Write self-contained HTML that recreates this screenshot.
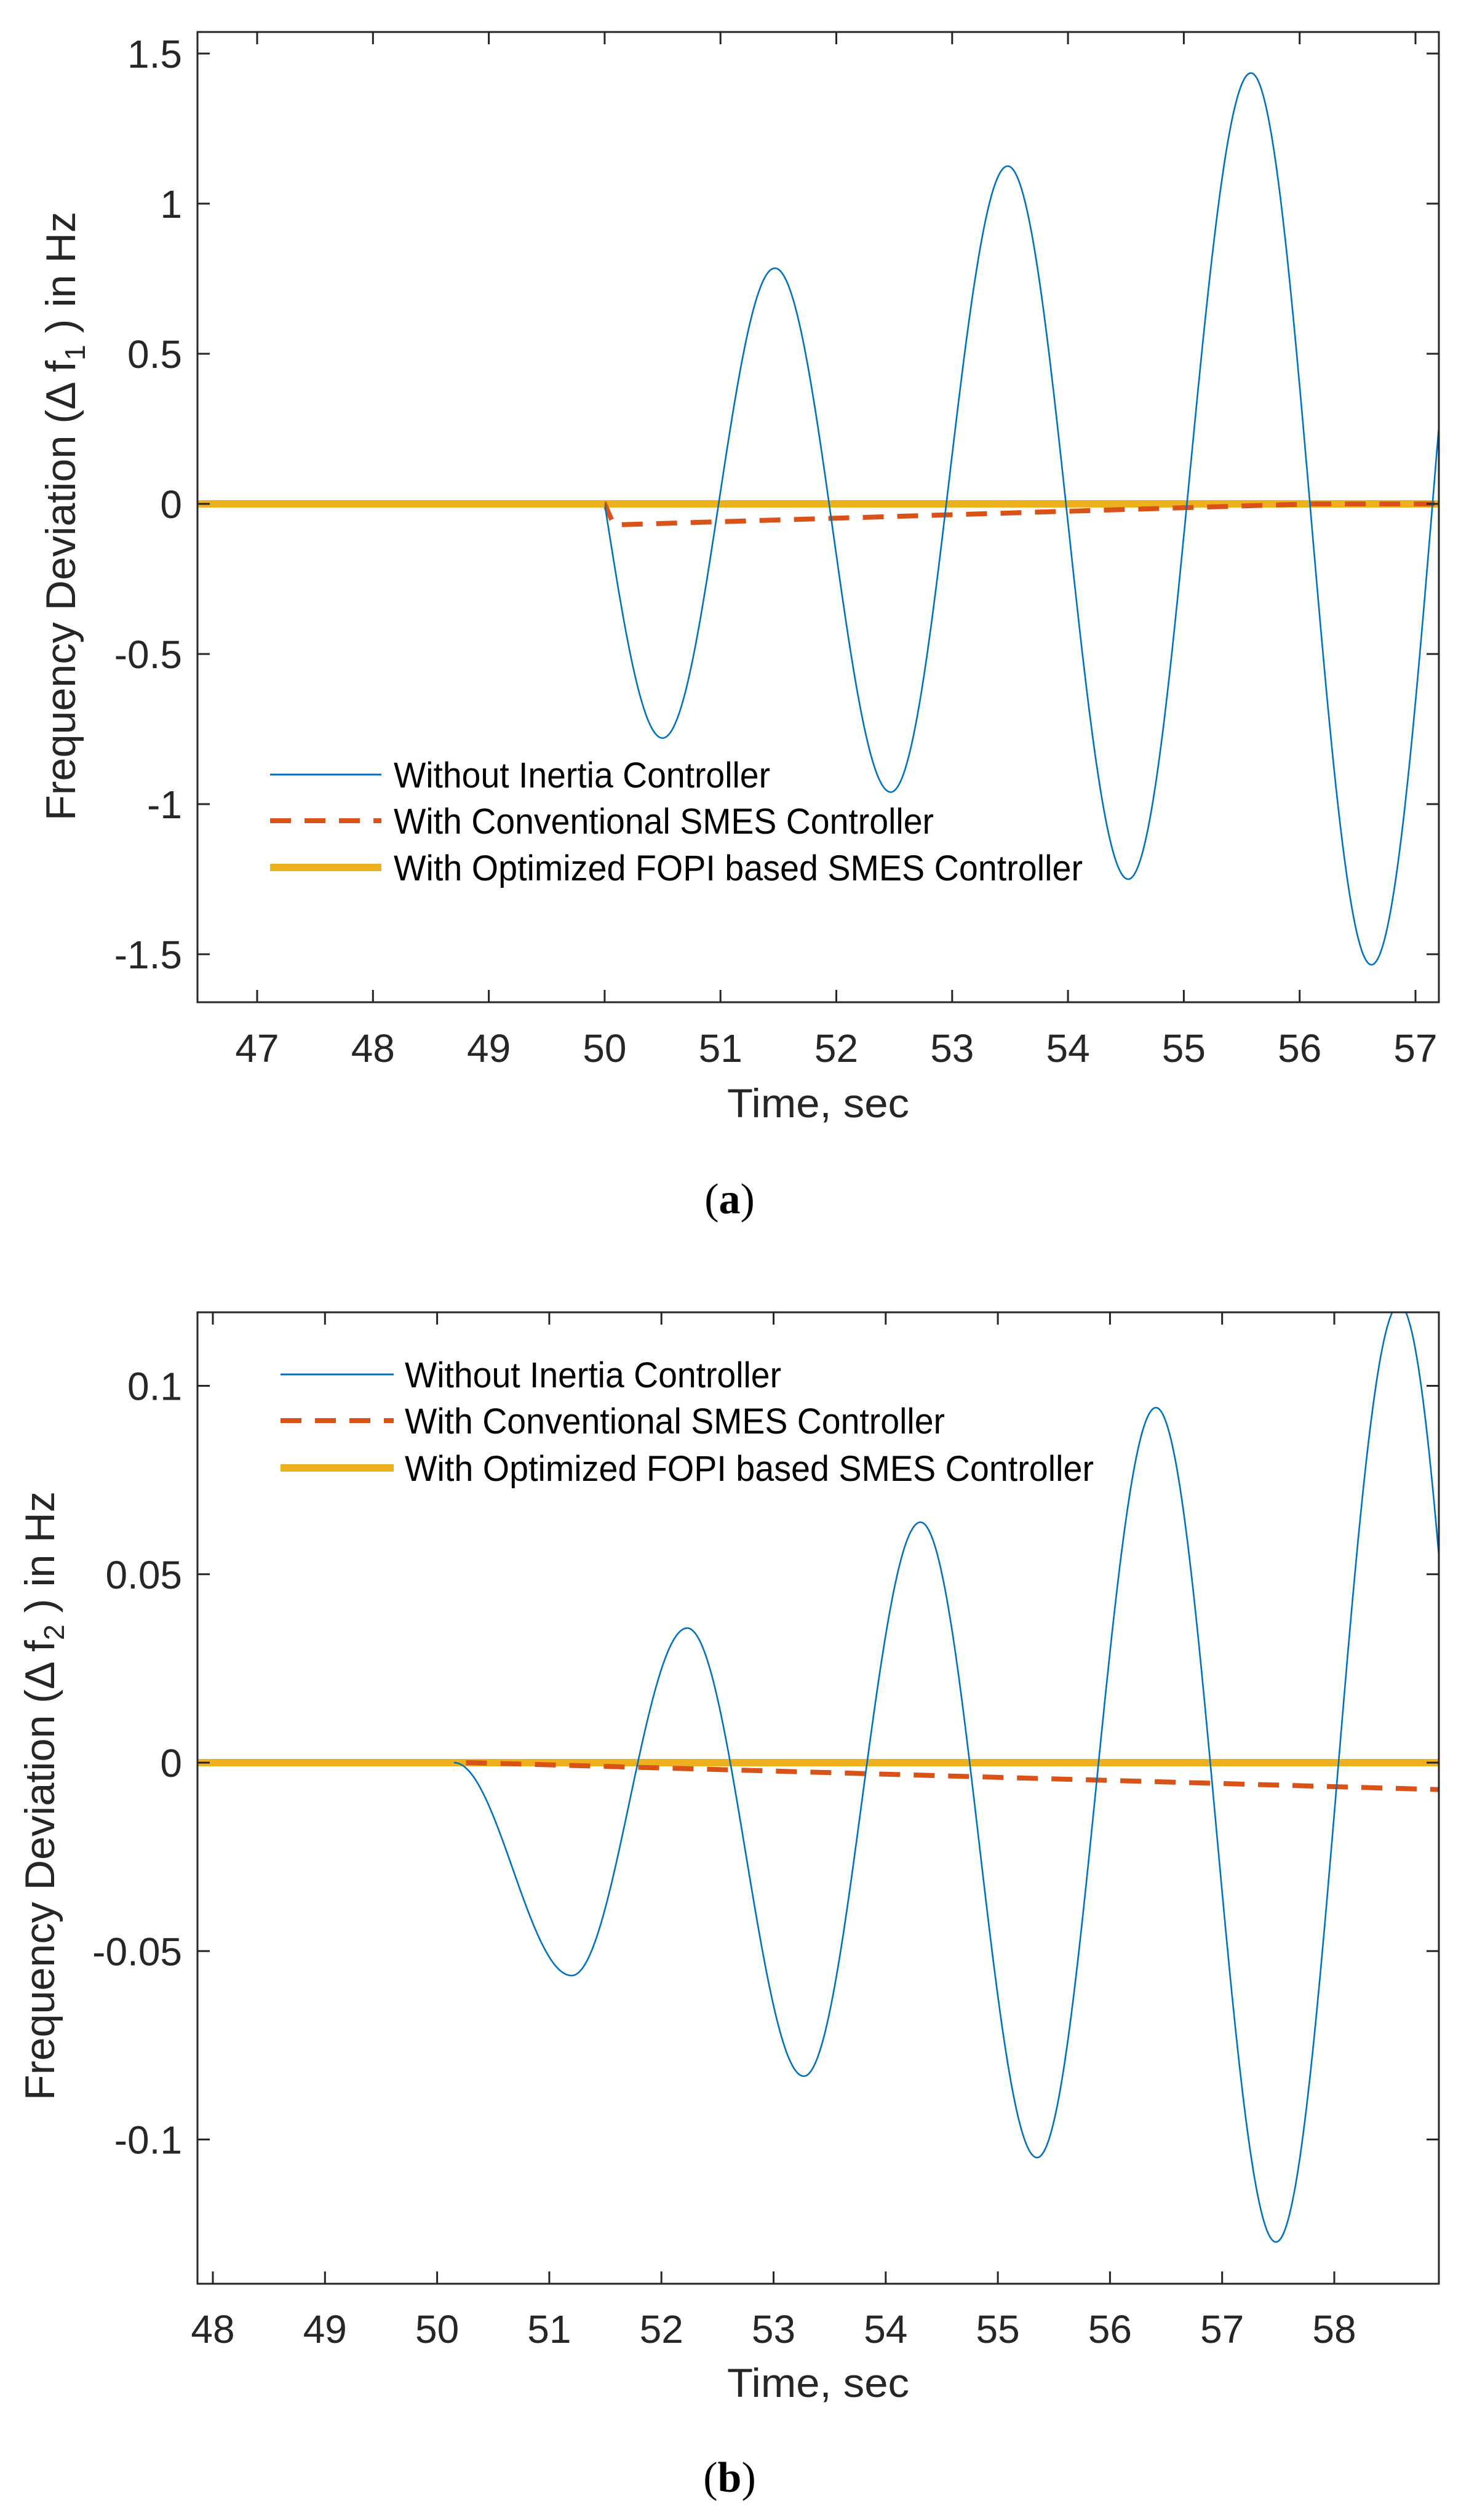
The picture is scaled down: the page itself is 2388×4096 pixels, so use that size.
<!DOCTYPE html>
<html><head><meta charset="utf-8">
<style>
html,body{margin:0;padding:0;background:#fff;}
svg{display:block;}
text{font-family:"Liberation Sans",sans-serif;fill:#262626;}
</style></head>
<body>
<svg id="s" width="2388" height="4096" viewBox="0 0 2388 4096" xmlns="http://www.w3.org/2000/svg">
<defs>
<clipPath id="ca"><rect x="321" y="52" width="2018" height="1577"/></clipPath>
<clipPath id="cb"><rect x="321" y="2133" width="2018" height="1579"/></clipPath>
</defs>
<g id="A"></g>
<g id="B"></g>
<text x="1186" y="1972" text-anchor="middle" style="font-family:'Liberation Serif',serif;font-size:70px;fill:#000">(<tspan font-weight="bold">a</tspan>)</text>
<text x="1186" y="4050" text-anchor="middle" style="font-family:'Liberation Serif',serif;font-size:70px;fill:#000">(<tspan font-weight="bold">b</tspan>)</text>
</svg>
<script>
var NS="http://www.w3.org/2000/svg";
function el(p,t,a,txt){var e=document.createElementNS(NS,t);for(var k in a)e.setAttribute(k,a[k]);if(txt!=null)e.textContent=txt;p.appendChild(e);return e;}
function curve(ext,t0,t1,fx,fy,firstSine){
  var pts=[];
  for(var t=t0;t<=t1;t+=0.004){
    var v=0;
    if(t<ext[0][0]) v=0;
    else{
      var i=0;while(i<ext.length-2&&t>ext[i+1][0])i++;
      var a=ext[i],b=ext[i+1];var f=(t-a[0])/(b[0]-a[0]);
      if(i==0&&firstSine) v=a[1]+(b[1]-a[1])*Math.sin(Math.PI/2*Math.min(f,1));
      else v=a[1]+(b[1]-a[1])*(1-Math.cos(Math.PI*f))/2;
    }
    pts.push(fx(t).toFixed(1)+","+fy(v).toFixed(1));
  }
  return "M"+pts.join("L");
}
function plot(g,cfg){
  var L=321,R=2339,T=cfg.T,Bm=cfg.B;
  var fx=function(t){return cfg.x0+(t-cfg.t0)*cfg.sx;};
  var fy=function(v){return cfg.y0-v*cfg.sy;};
  var cg=el(g,"g",{"clip-path":"url(#"+cfg.clip+")"});
  el(cg,"line",{x1:L,y1:fy(0),x2:R,y2:fy(0),stroke:"#EDB120","stroke-width":12});
  el(cg,"path",{d:cfg.red(fx,fy),fill:"none",stroke:"#D95319","stroke-width":8,"stroke-dasharray":"34,22"});
  el(cg,"path",{d:curve(cfg.ext,cfg.tmin,cfg.tmax,fx,fy,cfg.sine),fill:"none",stroke:"#0072BD","stroke-width":2.6});
  el(cg,"line",{x1:L,y1:fy(0),x2:fx(cfg.ext[0][0]),y2:fy(0),stroke:"#EDB120","stroke-width":12});
  el(g,"rect",{x:L,y:T,width:R-L,height:Bm-T,fill:"none",stroke:"#262626","stroke-width":3});
  cfg.xt.forEach(function(t){var x=fx(t);
    el(g,"line",{x1:x,y1:Bm,x2:x,y2:Bm-20,stroke:"#262626","stroke-width":3});
    el(g,"line",{x1:x,y1:T,x2:x,y2:T+20,stroke:"#262626","stroke-width":3});
    el(g,"text",{x:x,y:cfg.xly,"text-anchor":"middle","font-size":64},String(t));});
  cfg.yt.forEach(function(v){var y=fy(v);
    el(g,"line",{x1:L,y1:y,x2:L+20,y2:y,stroke:"#262626","stroke-width":3});
    el(g,"line",{x1:R,y1:y,x2:R-20,y2:y,stroke:"#262626","stroke-width":3});
    el(g,"text",{x:296,y:y+23,"text-anchor":"end","font-size":64},String(v));});
  el(g,"text",{x:1330,y:cfg.tly,"text-anchor":"middle","font-size":66,textLength:296,lengthAdjust:"spacingAndGlyphs"},"Time, sec");
  var yl=el(g,"text",{x:0,y:0,"text-anchor":"middle","font-size":68,textLength:cfg.yll,lengthAdjust:"spacingAndGlyphs",transform:"translate("+cfg.ylx+","+cfg.ylc+") rotate(-90)"});
  yl.innerHTML='Frequency Deviation (Δ  f<tspan font-size="46" dy="16">'+cfg.sub+'</tspan><tspan dy="-16"> ) in Hz</tspan>';
  var lg=cfg.leg;
  var names=["Without Inertia Controller","With Conventional SMES Controller","With Optimized FOPI based SMES Controller"];
  var lens=[612,878,1120];
  el(g,"line",{x1:lg.x1,y1:lg.y[0],x2:lg.x2,y2:lg.y[0],stroke:"#0072BD","stroke-width":3});
  el(g,"line",{x1:lg.x1,y1:lg.y[1],x2:lg.x2,y2:lg.y[1],stroke:"#D95319","stroke-width":8,"stroke-dasharray":"34,22"});
  el(g,"line",{x1:lg.x1,y1:lg.y[2],x2:lg.x2,y2:lg.y[2],stroke:"#EDB120","stroke-width":12});
  for(var i=0;i<3;i++) el(g,"text",{x:lg.tx,y:lg.y[i]+21,"font-size":58,textLength:lens[i],lengthAdjust:"spacingAndGlyphs",style:"fill:#000"},names[i]);
}
plot(document.getElementById("A"),{
  T:52,B:1629,x0:418,t0:47,sx:188.3,y0:819,sy:488,clip:"ca",
  ext:[[50,0],[50.5,-0.78],[51.47,0.785],[52.47,-0.96],[53.48,1.125],[54.52,-1.25],[55.58,1.435],[56.62,-1.535],[57.72,1.75]],
  sine:true,tmin:46.4,tmax:57.3,
  red:function(fx,fy){return "M"+fx(46.4)+","+fy(0)+"L"+fx(50)+","+fy(0)+"L"+fx(50.08)+","+fy(-0.07)+"L"+fx(56.1)+","+fy(0)+"L"+fx(57.3)+","+fy(0);},
  xt:[47,48,49,50,51,52,53,54,55,56,57],xly:1726,
  yt:[-1.5,-1,-0.5,0,0.5,1,1.5],
  tly:1816,ylx:122,ylc:839,sub:"1",yll:990,
  leg:{x1:439,x2:620,tx:640,y:[1259,1334,1410]}
});
plot(document.getElementById("B"),{
  T:2133,B:3712,x0:346,t0:48,sx:182.3,y0:2865,sy:6125,clip:"cb",
  ext:[[50.15,0],[51.2,-0.0565],[52.23,0.0357],[53.27,-0.0832],[54.31,0.0638],[55.35,-0.1048],[56.41,0.0942],[57.48,-0.1272],[58.58,0.1215],[59.65,-0.15]],
  sine:false,tmin:47.8,tmax:59,
  red:function(fx,fy){return "M"+fx(47.8)+","+fy(0)+"L"+fx(50.3)+","+fy(0)+"L"+fx(59)+","+fy(-0.0072);},
  xt:[48,49,50,51,52,53,54,55,56,57,58],xly:3808,
  yt:[-0.1,-0.05,0,0.05,0.1],
  tly:3896,ylx:88,ylc:2919,sub:"2",yll:990,
  leg:{x1:456,x2:640,tx:658,y:[2234,2309,2386]}
});
</script>
</body></html>
